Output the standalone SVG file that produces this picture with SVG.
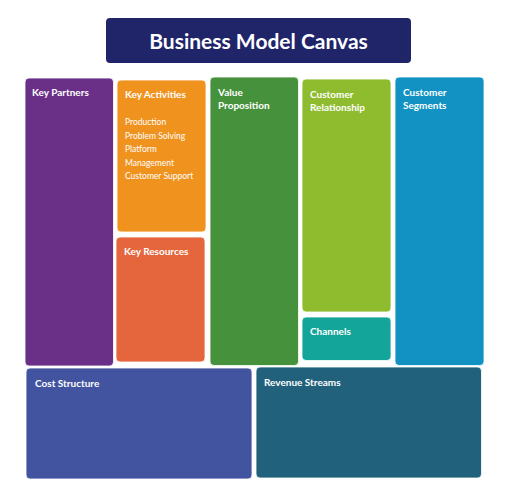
<svg xmlns="http://www.w3.org/2000/svg" width="512" height="490" viewBox="0 0 512 490">
<style>
.box{stroke:#ffffff;stroke-width:0.8}
.h{font-family:Lato,"Noto Sans","Liberation Sans",sans-serif;font-weight:bold;font-size:10px;fill:#ffffff}
.i{font-family:Lato,"Noto Sans","Liberation Sans",sans-serif;font-size:8.5px;fill:#ffffff}
.t{font-family:Lato,"Noto Sans","Liberation Sans",sans-serif;font-weight:bold;font-size:21px;fill:#ffffff}
</style>
<rect width="512" height="490" fill="#ffffff"/>
<g id="title"><rect x="106" y="18" width="305" height="45" rx="4" fill="#20256a"/><text class="t" x="258.5" y="48.5" text-anchor="middle">Business Model Canvas</text></g>
<g id="key-partners"><rect class="box" x="25" y="78" width="88.5" height="288" rx="4" fill="#6a2f86"/><text class="h" x="32" y="95.5">Key Partners</text></g>
<g id="key-activities"><rect class="box" x="117" y="80" width="89" height="152" rx="4" fill="#f0921e"/><text class="h" x="125" y="98">Key Activities</text>
<text class="i" x="125" y="125">Production</text><text class="i" x="125" y="138.5">Problem Solving</text><text class="i" x="125" y="152">Platform</text><text class="i" x="125" y="165.5">Management</text><text class="i" x="125" y="179">Customer Support</text></g>
<g id="key-resources"><rect class="box" x="116" y="237" width="89" height="125" rx="4" fill="#e5653d"/><text class="h" x="124" y="254.5">Key Resources</text></g>
<g id="value-proposition"><rect class="box" x="210" y="77" width="88.5" height="288.5" rx="4" fill="#46923c"/><text class="h" x="218" y="95.5">Value</text><text class="h" x="218" y="108.5">Proposition</text></g>
<g id="customer-relationship"><rect class="box" x="302" y="79" width="89" height="233" rx="4" fill="#8fbc2f"/><text class="h" x="310" y="97.5">Customer</text><text class="h" x="310" y="110.5">Relationship</text></g>
<g id="channels"><rect class="box" x="302" y="317" width="89" height="43.5" rx="4" fill="#14a59a"/><text class="h" x="310" y="334.5">Channels</text></g>
<g id="customer-segments"><rect class="box" x="395" y="77" width="89" height="288.5" rx="4" fill="#1192c2"/><text class="h" x="403" y="95.5">Customer</text><text class="h" x="403" y="108.5">Segments</text></g>
<g id="cost-structure"><rect class="box" x="26" y="368" width="226" height="111" rx="4" fill="#42549f"/><text class="h" x="35" y="386.5">Cost Structure</text></g>
<g id="revenue-streams"><rect class="box" x="256" y="367" width="225.5" height="111" rx="4" fill="#21617c"/><text class="h" x="264" y="385.5">Revenue Streams</text></g>
<g id="connectors"></g>
</svg>
